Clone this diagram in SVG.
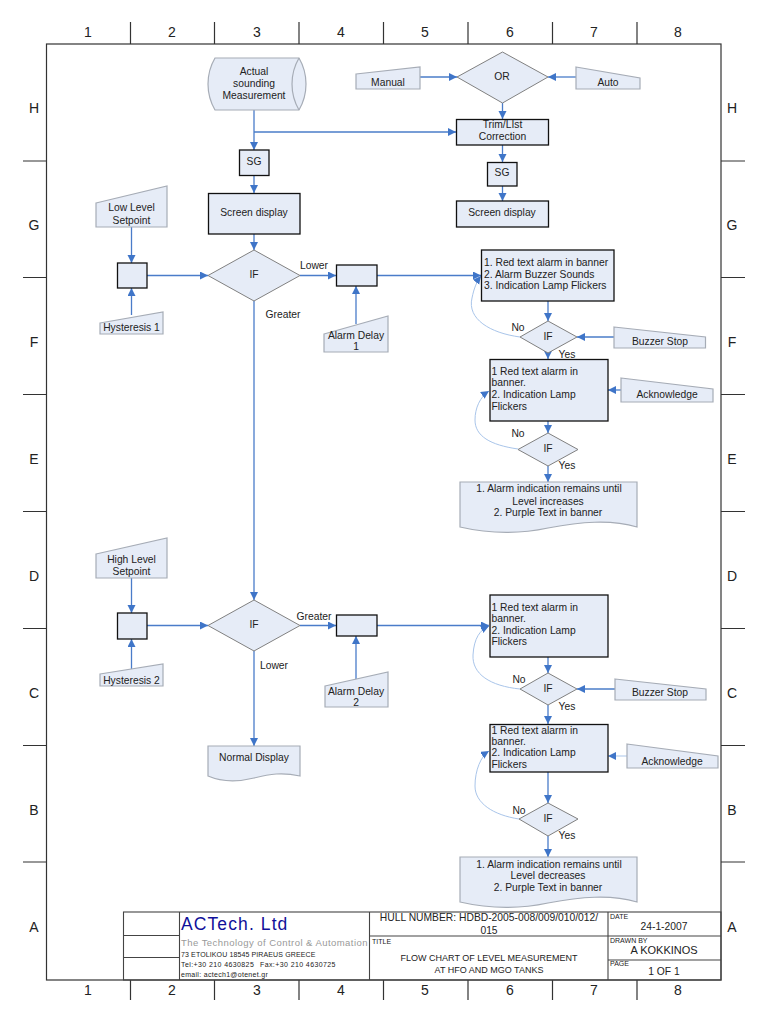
<svg xmlns="http://www.w3.org/2000/svg" width="768" height="1024" viewBox="0 0 768 1024">
<style>
text{font-family:"Liberation Sans",Arial,sans-serif;font-size:10.3px;fill:#222;text-anchor:middle}
.l{text-anchor:start}
.g{font-size:14px;fill:#222}
.frame{fill:none;stroke:#333;stroke-width:1.2}
.box{fill:#e6ecf7;stroke:#111;stroke-width:1.3}
.ip{fill:#e6ecf7;stroke:#a6acb6;stroke-width:1.2}
.dia{fill:#e6ecf7;stroke:#808080;stroke-width:1}
.c{fill:none;stroke:#4a7cc9;stroke-width:1.3}
.a{marker-end:url(#ah)}
.fb{fill:none;stroke:#a9c5ea;stroke-width:1;marker-end:url(#ah)}
.tb{fill:none;stroke:#444;stroke-width:1.1}
.s{font-size:7px}
</style>
<defs>
<marker id="ah" markerUnits="userSpaceOnUse" markerWidth="9" markerHeight="9" refX="8" refY="4" orient="auto"><path d="M0 0L8 4L0 8z" fill="#3f75c8"/></marker>
</defs>
<rect width="768" height="1024" fill="#fff"/>
<g id="border">
<rect class="frame" x="46.5" y="44" width="674.5" height="936"/>
<path class="frame" d="M130.500 22V44M214.500 22V44M299 22V44M383.500 22V44M468 22V44M552.500 22V44M637 22V44M130.500 980V1000M214.500 980V1000M299 980V1000M383.500 980V1000M468 980V1000M552.500 980V1000M637 980V1000M23 161H46M23 277.500H46M23 394.500H46M23 511.500H46M23 628.500H46M23 745.500H46M23 862H46M721 161H745M721 277.500H745M721 394.500H745M721 511.500H745M721 628.500H745M721 745.500H745M721 862H745"/>
<g class="g">
<text class="g" x="88" y="37">1</text><text class="g" x="172" y="37">2</text><text class="g" x="257" y="37">3</text><text class="g" x="341" y="37">4</text><text class="g" x="425" y="37">5</text><text class="g" x="510" y="37">6</text><text class="g" x="594" y="37">7</text><text class="g" x="678" y="37">8</text>
<text class="g" x="88" y="995">1</text><text class="g" x="172" y="995">2</text><text class="g" x="257" y="995">3</text><text class="g" x="341" y="995">4</text><text class="g" x="425" y="995">5</text><text class="g" x="510" y="995">6</text><text class="g" x="594" y="995">7</text><text class="g" x="678" y="995">8</text>
<text class="g" x="34" y="113">H</text><text class="g" x="34" y="230">G</text><text class="g" x="34" y="347">F</text><text class="g" x="34" y="464">E</text><text class="g" x="34" y="581">D</text><text class="g" x="34" y="698">C</text><text class="g" x="34" y="815">B</text><text class="g" x="34" y="932">A</text>
<text class="g" x="732" y="113">H</text><text class="g" x="732" y="230">G</text><text class="g" x="732" y="347">F</text><text class="g" x="732" y="464">E</text><text class="g" x="732" y="581">D</text><text class="g" x="732" y="698">C</text><text class="g" x="732" y="815">B</text><text class="g" x="732" y="932">A</text>
</g>
</g>
<g id="connectors">
<path class="c a" d="M254 110V150"/>
<path class="c a" d="M254 132H456"/>
<path class="c a" d="M254 175V193"/>
<path class="c a" d="M254 234V250"/>
<path class="c a" d="M131.500 227V263"/>
<path class="c a" d="M131.500 315V288"/>
<path class="c a" d="M147 275.500H208"/>
<path class="c a" d="M300 275.500H336"/>
<path class="c a" d="M356 324V286"/>
<path class="c a" d="M377 275.500H481"/>
<path class="c a" d="M254 301V600"/>
<path class="c a" d="M420 77H457"/>
<path class="c a" d="M576 77H548"/>
<path class="c a" d="M502.500 103V119"/>
<path class="c a" d="M502.500 145V162"/>
<path class="c a" d="M502.500 186V201"/>
<path class="c a" d="M548 301V321"/>
<path class="c a" d="M614 337H577"/>
<path class="c a" d="M548 353V359"/>
<path class="fb" d="M520 337C490 333 467 319 472 298C474 288 477 281 481 276"/>
<path class="c a" d="M621 390H608"/>
<path class="c a" d="M548 421V433"/>
<path class="c a" d="M548 466V482"/>
<path class="fb" d="M518 449C490 445 475 436 475 420C475 408 480 397 489 391"/>
<path class="c a" d="M131.500 578V613"/>
<path class="c a" d="M131.500 669V639"/>
<path class="c a" d="M147 625.500H208"/>
<path class="c a" d="M300 625.500H336"/>
<path class="c a" d="M356 680V636"/>
<path class="c a" d="M377 625.500H489"/>
<path class="c a" d="M254 651V746"/>
<path class="c a" d="M548 657V673"/>
<path class="c a" d="M615 689H577"/>
<path class="c a" d="M548 705V724"/>
<path class="fb" d="M520 689C490 686 472 674 473 655C474 638 480 630 489 626"/>
<path class="fb" d="M627 756H608"/>
<path class="c a" d="M548 772V803"/>
<path class="c a" d="M548 836V857"/>
<path class="fb" d="M519 819C493 815 475 803 475 786C475 770 481 756 489 751"/>
</g>
<g id="actual"><path class="ip" d="M215 58H299Q306 70 306 84Q306 98 299 110H215Q208 98 208 84Q208 70 215 58z"/><path class="ip" style="fill:none" d="M299 58Q292 70 292 84Q292 98 299 110"/><text x="254" y="75">Actual</text><text x="254" y="87">sounding</text><text x="254" y="99">Measurement</text></g>
<g id="sg1"><rect class="box" x="239.500" y="150" width="29.500" height="25.500"/><text x="254" y="165">SG</text></g>
<g id="screen1"><rect class="box" x="208.500" y="193.500" width="91.500" height="40.500"/><text x="254" y="216">Screen display</text></g>
<g id="if1"><path class="dia" d="M254 250L300 275.500L254 301L208 275.500z"/><text x="254" y="278">IF</text></g>
<g id="low"><path class="ip" d="M96 203L167 186V227H96z"/><text x="131.500" y="211">Low Level</text><text x="131.500" y="224">Setpoint</text></g>
<g id="cmp1"><rect class="box" x="117.500" y="263" width="29.500" height="25"/></g>
<g id="hyst1"><path class="ip" d="M100 323L163 312V334H100z"/><text x="131.500" y="331">Hysteresis 1</text></g>
<g id="delaybox1"><rect class="box" x="336.500" y="265" width="40.500" height="21"/></g>
<g id="delay1"><path class="ip" d="M324 334L388 316V352H324z"/><text x="356" y="339">Alarm Delay</text><text x="356" y="350">1</text></g>
<g id="lbl1"><text x="314" y="269">Lower</text><text x="283" y="318">Greater</text></g>
<g id="manual"><path class="ip" d="M356 74L420 67V89H356z"/><text x="388" y="86">Manual</text></g>
<g id="or"><path class="dia" d="M502.500 52L548 77L502.500 103L457 77z"/><text x="502" y="80">OR</text></g>
<g id="auto"><path class="ip" d="M576 67L640 78V89H576z"/><text x="608" y="86">Auto</text></g>
<g id="trim"><rect class="box" x="456.500" y="119.500" width="92" height="25.500"/><text x="502.500" y="128">Trim/LIst</text><text x="502.500" y="140">Correction</text></g>
<g id="sg2"><rect class="box" x="487.500" y="162.500" width="29.500" height="23.500"/><text x="502" y="176">SG</text></g>
<g id="screen2"><rect class="box" x="456.500" y="201" width="92" height="26"/><text x="502" y="216">Screen display</text></g>
<g id="alarm1"><rect class="box" x="481.500" y="250" width="132.500" height="51"/><text class="l" x="484" y="266">1. Red text alarm in banner</text><text class="l" x="484" y="278">2. Alarm Buzzer Sounds</text><text class="l" x="484" y="289">3. Indication Lamp Flickers</text></g>
<g id="if2"><path class="dia" d="M548 321L577 337L548 353L520 337z"/><text x="548" y="340">IF</text><text x="518" y="331">No</text><text x="567" y="358">Yes</text></g>
<g id="buzzer1"><path class="ip" d="M614 327L705.500 337V348H614z"/><text x="660" y="345">Buzzer Stop</text></g>
<g id="alarm2"><rect class="box" x="490" y="359.500" width="118" height="61.500"/><text class="l" x="491.500" y="375">1 Red text alarm in</text><text class="l" x="491.500" y="386">banner.</text><text class="l" x="491.500" y="398">2. Indication Lamp</text><text class="l" x="491.500" y="410">Flickers</text></g>
<g id="ack1"><path class="ip" d="M621 378L713 389V402H621z"/><text x="667" y="398">Acknowledge</text></g>
<g id="if3"><path class="dia" d="M548 433L578 449.500L548 466L518 449.500z"/><text x="548" y="452">IF</text><text x="518" y="437">No</text><text x="567" y="469">Yes</text></g>
<g id="doc1"><path class="ip" d="M460 482H637V527C610 519 580 522 548 528C520 534 490 534 460 527z"/><text x="549" y="492">1. Alarm indication remains until</text><text x="548" y="505">Level increases</text><text x="548" y="516">2. Purple Text in banner</text></g>
<g id="high"><path class="ip" d="M96 554L167 538V578H96z"/><text x="131.500" y="563">High Level</text><text x="131.500" y="575">Setpoint</text></g>
<g id="cmp2"><rect class="box" x="117.500" y="613" width="29.500" height="26"/></g>
<g id="hyst2"><path class="ip" d="M100 674L163 664V686H100z"/><text x="131.500" y="684">Hysteresis 2</text></g>
<g id="if4"><path class="dia" d="M254 600L300 625.500L254 651L208 625.500z"/><text x="254" y="628">IF</text></g>
<g id="delaybox2"><rect class="box" x="336.500" y="615" width="40.500" height="21"/></g>
<g id="delay2"><path class="ip" d="M325 686L388 672V707H325z"/><text x="356" y="695">Alarm Delay</text><text x="356" y="706">2</text></g>
<g id="lbl2"><text x="314" y="620">Greater</text><text x="274" y="669">Lower</text></g>
<g id="normal"><path class="ip" d="M208 746H300V776C282 772 270 774 254 778C238 782 222 782 208 776z"/><text x="254" y="761">Normal Display</text></g>
<g id="alarm3"><rect class="box" x="490" y="595" width="118" height="62"/><text class="l" x="491.500" y="611">1 Red text alarm in</text><text class="l" x="491.500" y="622">banner.</text><text class="l" x="491.500" y="634">2. Indication Lamp</text><text class="l" x="491.500" y="645">Flickers</text></g>
<g id="if5"><path class="dia" d="M548 673L577 689L548 705L520 689z"/><text x="548" y="692">IF</text><text x="519" y="683">No</text><text x="567" y="710">Yes</text></g>
<g id="buzzer2"><path class="ip" d="M615 679L706 689V700H615z"/><text x="660" y="696">Buzzer Stop</text></g>
<g id="alarm4"><rect class="box" x="490" y="724.500" width="118" height="47.500"/><text class="l" x="491.500" y="734">1 Red text alarm in</text><text class="l" x="491.500" y="745">banner.</text><text class="l" x="491.500" y="756">2. Indication Lamp</text><text class="l" x="491.500" y="768">Flickers</text></g>
<g id="ack2"><path class="ip" d="M627 744L718 756V768H627z"/><text x="672" y="765">Acknowledge</text></g>
<g id="if6"><path class="dia" d="M548 803L578 819L548 836L519 819z"/><text x="548" y="822">IF</text><text x="519" y="814">No</text><text x="567" y="839">Yes</text></g>
<g id="doc2"><path class="ip" d="M460 857H637V902C610 894 580 897 548 903C520 909 490 909 460 902z"/><text x="549" y="868">1. Alarm indication remains until</text><text x="548" y="879">Level decreases</text><text x="548" y="891">2. Purple Text in banner</text></g>
<g id="titleblock">
<rect class="tb" x="123.500" y="912" width="597.500" height="68"/>
<path class="tb" d="M179.500 912V980M369.500 912V980M608 912V980M123.500 935.500H179.500M123.500 957.500H179.500M369.500 936H721M608 960H721"/>
<text class="l" x="181" y="930" style="font-size:17.500px;fill:#10109a;letter-spacing:1.1px">ACTech. Ltd</text>
<text class="l" x="181" y="946" style="font-size:9.500px;fill:#999;letter-spacing:.45px">The Technology of Control &amp; Automation</text>
<text class="l s" x="181" y="956.500" style="letter-spacing:.12px">73 ETOLIKOU 18545 PIRAEUS GREECE</text>
<text class="l s" x="181" y="966.500" style="letter-spacing:.4px">Tel:+30 210 4630825</text>
<text class="l s" x="260" y="966.500" style="letter-spacing:.4px">Fax:+30 210 4630725</text>
<text class="l s" x="181" y="977" style="letter-spacing:.3px">email: actech1@otenet.gr</text>
<text x="489" y="921">HULL NUMBER: HDBD-2005-008/009/010/012/</text>
<text x="489" y="933.500">015</text>
<text class="l s" x="372" y="943.500">TITLE</text>
<text x="489" y="961" style="font-size:9px">FLOW CHART OF LEVEL MEASUREMENT</text>
<text x="489" y="972.500" style="font-size:9px">AT HFO AND MGO TANKS</text>
<text class="l s" x="610" y="919">DATE</text>
<text x="664" y="930">24-1-2007</text>
<text class="l s" x="610" y="943">DRAWN BY</text>
<text x="664" y="954" style="font-size:11px">A KOKKINOS</text>
<text class="l s" x="610" y="966">PAGE</text>
<text x="664" y="975">1 OF 1</text>
</g>
</svg>
